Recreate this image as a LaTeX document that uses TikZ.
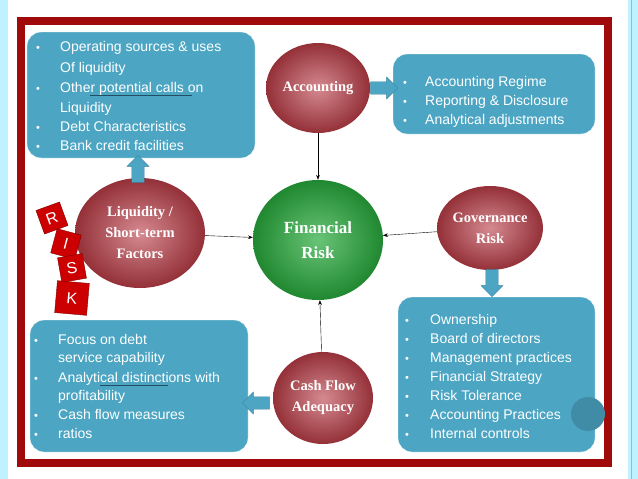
\documentclass[tikz,border=0pt]{standalone}
\usepackage{fontspec}
\setmainfont{Liberation Serif}
\setsansfont{Liberation Sans}
\usetikzlibrary{positioning, calc}
\usetikzlibrary{arrows.meta}
\usetikzlibrary{shapes,arrows}
\definecolor{frame}{RGB}{160,10,10}
\definecolor{tealbox}{RGB}{75,165,195}
\definecolor{tealdark}{RGB}{55,130,160}
\definecolor{redball}{RGB}{185,60,70}
\definecolor{greenball}{RGB}{40,170,60}
\begin{document}
\begin{tikzpicture}[x=1pt,y=-1pt,>=Stealth]

	\tikzstyle{info}=[draw=white,fill=tealbox,rounded corners=14pt]
	\tikzstyle{item}=[anchor=base west,inner sep=0pt,text=white,font=\sffamily\fontsize{14}{14}\selectfont]
	\tikzstyle{dot}=[anchor=base west,inner sep=0pt,text=white,font=\sffamily\fontsize{11}{12}\selectfont]
	\tikzstyle{ball}=[ellipse,inner sep=0pt,text=white,align=center,font=\bfseries\fontsize{14.5}{21}\selectfont,outer color=redball!80!black,inner color=redball!60!white]
	\tikzstyle{blockarrow}=[single arrow,draw=tealdark,fill=tealbox,minimum height=27pt,minimum width=22pt,single arrow head extend=4pt,inner sep=5pt]
	\tikzstyle{cube}=[draw=red!50!black,fill=red!80!black,minimum size=25pt,inner sep=0pt,text=white,font=\sffamily\fontsize{16}{16}\selectfont]
	\useasboundingbox (0,0) rectangle (638,479);

	% side bands and frame
	\fill[blue!20!cyan!25] (0,0) rectangle (8,479);
	\fill[blue!20!cyan!25] (628,0) rectangle (638,479);
	\draw[gray!60] (631,0) -- (631,479);
	\draw[frame,line width=8pt] (21,21) rectangle (608,463);

	% boxes
	\draw[info] (27,32) rectangle (255,158);
	\draw[info] (393,54) rectangle (595,134);
	\draw[info] (398,297) rectangle (595,452);
	\draw[info] (30,320) rectangle (248,452);
	\fill[tealbox!85!black] (588,414) circle (17);

	% top left items
	\foreach \y in {52,92,131,150}
		\node[dot] at (36,\y) {•};
	\foreach \y/\t in {52/Operating sources \& uses, 72/Of liquidity, 92/Other potential calls on, 112/Liquidity, 131/Debt Characteristics, 150/Bank credit facilities}
		\node[item] at (60,\y) {\t};
	\draw[tealdark!60!black] (90,95) -- (192,95);

	% top right items
	\foreach \y/\t in {86/Accounting Regime, 105/Reporting \& Disclosure, 124/Analytical adjustments}{
		\node[dot] at (403,\y) {•};
		\node[item] at (425,\y) {\t};
	}

	% bottom right items
	\foreach \y/\t in {324/Ownership, 343/Board of directors, 362/Management practices, 381/{ Financial Strategy}, 400/Risk Tolerance, 419/Accounting Practices, 438/Internal controls}{
		\node[dot] at (405,\y) {•};
		\node[item] at (430,\y) {\t};
	}

	% bottom left items
	\foreach \y in {344,382,419,438}
		\node[dot] at (34,\y) {•};
	\foreach \y/\t in {344/Focus on debt, 362/service capability, 382/Analytical distinctions with, 400/profitability, 419/Cash flow measures /, 438/ratios}
		\node[item] at (58,\y) {\t};
	\draw[tealdark!60!black] (100,385) -- (168,385);

	% circles
	\node[ball,minimum width=104pt,minimum height=90pt] (acc) at (318,88) {Accounting};
	\node[ellipse,minimum width=130pt,minimum height=120pt,inner sep=0pt,text=white,align=center,font=\bfseries\fontsize{17}{25}\selectfont,outer color=greenball!80!black,inner color=greenball!70!white] (fin) at (318,240) {Financial\\Risk};
	\node[ball,minimum width=130pt,minimum height=110pt] (liq) at (140,233) {Liquidity /\\Short-term\\Factors};
	\node[ball,minimum width=104pt,minimum height=84pt] (gov) at (490,228) {Governance\\Risk};
	\node[ball,minimum width=100pt,minimum height=92pt] (cash) at (323,398) {Cash Flow\\Adequacy};

	% connectors
	\draw[->] (acc) -- (fin);
	\draw[->] (liq) -- (fin);
	\draw[->] (gov) -- (fin);
	\draw[->] (cash) -- (fin);

	% block arrows
	\node[blockarrow,rotate=90] (upliq) at (138,172) {};
	\node[blockarrow] (rtacc) at (381,88) {};
	\node[blockarrow,rotate=-90] (dngov) at (492,280) {};
	\node[blockarrow,rotate=180] (ltcash) at (259,403) {};

	% risk cubes
	\node[cube,rotate=20] (r) at (52,218) {R};
	\node[cube,rotate=-15] (i) at (66,244) {I};
	\node[cube,rotate=10] (s) at (72,268) {S};
	\node[cube,rotate=-5,minimum size=32pt] (k) at (72,298) {K};
\end{tikzpicture}
\end{document}
